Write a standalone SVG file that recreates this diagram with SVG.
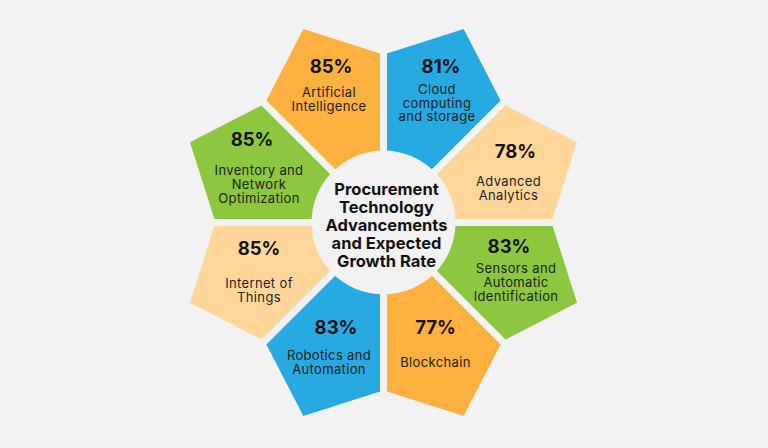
<svg xmlns="http://www.w3.org/2000/svg" width="768" height="448" viewBox="0 0 768 448">
<style>
.bg{fill:#F2F2F2}
.orange{fill:#FBB040}
.blue{fill:#29A9E1}
.green{fill:#8DC63F}
.peach{fill:#FFD699}
.pct{font-family:Inter,"Noto Sans",sans-serif;font-weight:700;font-size:18.5px;fill:#111111;text-anchor:middle}
.lbl{font-family:Inter,"Noto Sans",sans-serif;font-weight:400;font-size:13px;letter-spacing:0.35px;fill:#1E1E1E;text-anchor:middle}
.ttl{font-family:Inter,"Noto Sans",sans-serif;font-weight:700;font-size:16.5px;fill:#111111;text-anchor:middle}
</style>
<rect class="bg" x="0" y="0" width="768" height="448"/>
<g id="connectors"></g>
<g id="node-cloud">
<polygon class="blue" points="387,53.38 463.67,28.95 500.6,100.45 387,214.05"/>
<text class="pct" x="441" y="73">81%</text>
<text class="lbl" x="437" y="94">Cloud</text>
<text class="lbl" x="437" y="107.5">computing</text>
<text class="lbl" x="437" y="121">and storage</text>
</g>
<g id="node-analytics">
<polygon class="peach" points="552.62,219 577.05,142.33 505.55,105.4 391.95,219"/>
<text class="pct" x="515.5" y="158">78%</text>
<text class="lbl" x="508.5" y="186">Advanced</text>
<text class="lbl" x="508.5" y="200">Analytics</text>
</g>
<g id="node-sensors">
<polygon class="green" points="552.62,226 577.05,302.67 505.55,339.6 391.95,226"/>
<text class="pct" x="509" y="252.5">83%</text>
<text class="lbl" x="516" y="272.5">Sensors and</text>
<text class="lbl" x="516" y="286.5">Automatic</text>
<text class="lbl" x="516" y="300.5">Identification</text>
</g>
<g id="node-blockchain">
<polygon class="orange" points="387,391.62 463.67,416.05 500.6,344.55 387,230.95"/>
<text class="pct" x="435.5" y="333.5">77%</text>
<text class="lbl" x="435.5" y="367">Blockchain</text>
</g>
<g id="node-robotics">
<polygon class="blue" points="380,391.62 303.33,416.05 266.4,344.55 380,230.95"/>
<text class="pct" x="336" y="333.5">83%</text>
<text class="lbl" x="329" y="360">Robotics and</text>
<text class="lbl" x="329" y="373.5">Automation</text>
</g>
<g id="node-iot">
<polygon class="peach" points="214.38,226 189.95,302.67 261.45,339.6 375.05,226"/>
<text class="pct" x="259" y="255">85%</text>
<text class="lbl" x="259" y="287.5">Internet of</text>
<text class="lbl" x="259" y="301.5">Things</text>
</g>
<g id="node-inventory">
<polygon class="green" points="214.38,219 189.95,142.33 261.45,105.4 375.05,219"/>
<text class="pct" x="252" y="146">85%</text>
<text class="lbl" x="259" y="175">Inventory and</text>
<text class="lbl" x="259" y="189">Network</text>
<text class="lbl" x="259" y="202.5">Optimization</text>
</g>
<g id="node-ai">
<polygon class="orange" points="380,53.38 303.33,28.95 266.4,100.45 380,214.05"/>
<text class="pct" x="331" y="73">85%</text>
<text class="lbl" x="329" y="97">Artificial</text>
<text class="lbl" x="329" y="111">Intelligence</text>
</g>
<g id="node-center">
<circle class="bg" cx="383.5" cy="222.5" r="72"/>
<text class="ttl" x="386.5" y="195.3">Procurement</text>
<text class="ttl" x="386.5" y="213.1">Technology</text>
<text class="ttl" x="386.5" y="230.9">Advancements</text>
<text class="ttl" x="386.5" y="248.7">and Expected</text>
<text class="ttl" x="386.5" y="266.5">Growth Rate</text>
</g>
</svg>
